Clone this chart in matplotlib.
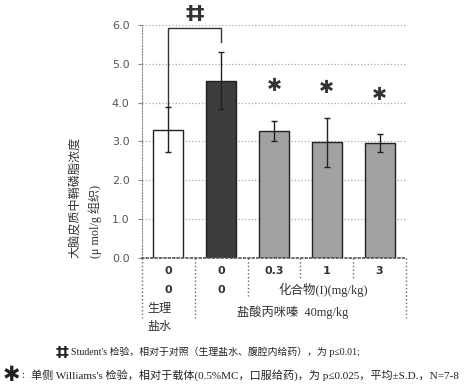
import matplotlib.pyplot as plt
import numpy as np

# data
groups = ["生理盐水", "盐酸丙咪嗪", "0.3", "1", "3"]
means = [3.30, 4.57, 3.28, 2.98, 2.96]
sds = [0.58, 0.74, 0.26, 0.63, 0.23]
star_y = [None, None, 4.42, 4.38, 4.21]
row1 = ["0", "0", "0.3", "1", "3"]
row2 = ["0", "0"]
colors = ["white", "#3c3c3c", "#a2a2a2", "#a2a2a2", "#a2a2a2"]

cjk = ["Noto Sans CJK SC", "DejaVu Sans"]
serif_cjk = ["Liberation Serif", "Noto Sans CJK SC"]

fig = plt.figure(figsize=(4.74, 3.89), dpi=100)
ax = fig.add_axes([0.2996, 0.3368, 0.5569, 0.5989])

x = np.arange(len(groups))
ax.bar(x, means, width=0.57, color=colors, edgecolor="#222222", linewidth=1.0, zorder=2)
ax.errorbar(x, means, yerr=sds, fmt="none", ecolor="#222222", elinewidth=1.0,
            capsize=2, capthick=1.0, zorder=3)

for xi, sy in zip(x, star_y):
    if sy is not None:
        ax.text(xi, sy, "✱", ha="center", va="center", fontsize=13, color="#333333")

ax.set_xlim(-0.5, 4.5)
ax.set_ylim(0, 6.0)
ax.set_yticks(np.arange(0, 6.01, 1.0))
ax.set_yticklabels([f"{v:.1f}" for v in np.arange(0, 6.01, 1.0)], fontsize=8, color="#555555")
ax.set_xticks([])
ax.tick_params(axis="y", length=3, color="#888888", pad=6)
ax.yaxis.grid(True, linestyle=":", color="#aaaaaa", linewidth=0.9)
ax.set_axisbelow(True)
for s in ["top", "right"]:
    ax.spines[s].set_visible(False)
ax.spines["left"].set_color("#888888")
ax.spines["left"].set_linestyle(":")
ax.spines["bottom"].set_color("#555555")
ax.spines["bottom"].set_linestyle(":")
ax.spines["bottom"].set_linewidth(1.2)

# significance bracket
ax.plot([0, 0, 1, 1], [3.92, 5.92, 5.92, 5.55], color="#333333", lw=1.0, clip_on=False)
ax.text(0.5, 6.3, "‡‡", ha="center", va="center", fontsize=14, fontweight="bold",
        color="#333333", clip_on=False)

# y label, two lines
fig.text(75 / 474, 1 - 258 / 389, "大脑皮质中鞘磷脂浓度", rotation=90, ha="center",
         va="bottom", fontsize=8.7, family=cjk, color="#333333")
fig.text(95 / 474, 1 - 258 / 389, "(μ mol/g 组织)", rotation=90, ha="center",
         va="bottom", fontsize=8.7, family=serif_cjk, color="#333333")

# table under the axis
tr = ax.get_xaxis_transform()
for xi, lab in zip(x, row1):
    ax.text(xi, -0.056, lab, transform=tr, ha="center", va="center", fontsize=8,
            fontweight="bold", color="#333333")
for xi, lab in zip(x, row2):
    ax.text(xi, -0.137, lab, transform=tr, ha="center", va="center", fontsize=8,
            fontweight="bold", color="#333333")
ax.text(2.93, -0.137, "化合物(I)(mg/kg)", transform=tr, ha="center", va="center",
        fontsize=9, family=serif_cjk, color="#333333")
ax.text(-0.4, -0.215, "生理", transform=tr, ha="left", va="center", fontsize=8.7,
        family=cjk, color="#333333")
ax.text(-0.4, -0.292, "盐水", transform=tr, ha="left", va="center", fontsize=8.7,
        family=cjk, color="#333333")
ax.text(2.36, -0.232, "盐酸丙咪嗪  40mg/kg", transform=tr, ha="center", va="center",
        fontsize=8.8, family=serif_cjk, color="#333333")

bounds = [-0.5, 0.5, 1.5, 2.5, 3.5, 4.5]
bottoms = [-0.258, -0.258, -0.163, -0.086, -0.086, -0.258]
for bx, by in zip(bounds, bottoms):
    ax.plot([bx, bx], [0, by], transform=tr, color="#666666", lw=1.0, ls=":", clip_on=False)

# footnotes
fig.text(56 / 474, 1 - 352 / 389, "‡‡", ha="left", va="center", fontsize=10,
         fontweight="bold", color="#222222")
fig.text(71 / 474, 1 - 352 / 389,
         "Student's 检验，相对于对照（生理盐水、腹腔内给药），为 p≤0.01;",
         ha="left", va="center", fontsize=7.1, family=serif_cjk, color="#222222")
fig.text(3 / 474, 1 - 375 / 389, "✱", ha="left", va="center", fontsize=15, color="#222222")
fig.text(21 / 474, 1 - 375 / 389, ":", ha="left", va="center", fontsize=8,
         family=serif_cjk, color="#222222")
fig.text(31 / 474, 1 - 375 / 389,
         "单侧 Williams's 检验，相对于载体(0.5%MC，口服给药)，为 p≤0.025，平均±S.D.，N=7-8",
         ha="left", va="center", fontsize=8, family=serif_cjk, color="#222222")

fig.savefig("out.png", dpi=100)
